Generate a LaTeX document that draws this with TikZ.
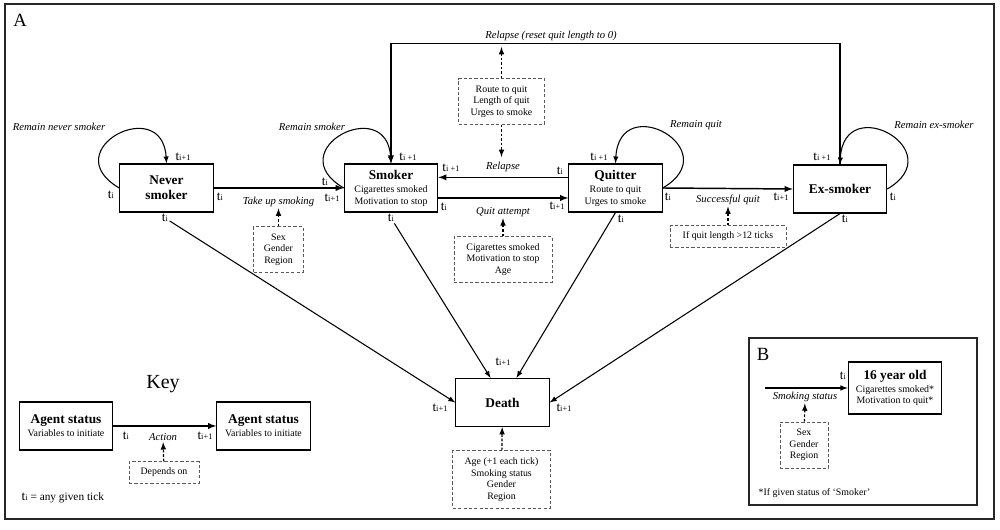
\documentclass[tikz,border=0pt]{standalone}
\usepackage{fontspec}
\setmainfont{Liberation Serif}
\usetikzlibrary{positioning}

\newcommand{\ttlfont}{\bfseries\fontsize{10}{11.5}\selectfont}
\newcommand{\varfont}{\fontsize{7.4}{8.6}\selectfont}
\newcommand{\actfont}{\itshape\fontsize{8}{9.5}\selectfont}
\newcommand{\tk}[1]{{\fontsize{10}{10}\selectfont t}{\fontsize{6.3}{7}\selectfont #1}}

\tikzset{
  status/.style={draw, line width=0.9pt, minimum width=70pt, minimum height=36pt, align=center, inner sep=1pt, font=\varfont},
  depbox/.style={draw=black!65, dash pattern=on 2.4pt off 1.6pt, line width=0.7pt, align=center, inner sep=1.5pt, font=\varfont},
  act/.style={font=\actfont, inner sep=1pt},
  tick/.style={inner sep=1pt},
  move/.style={->, line width=1.1pt},
  dep/.style={->, line width=0.9pt, dash pattern=on 2pt off 1.4pt}
}

\begin{document}
\begin{tikzpicture}[>=latex, x=0.75pt, y=-0.75pt]
	\useasboundingbox (0,0) rectangle (1000,530);

	% 1. Frames of panels A and B
	\draw[line width=1.1pt, black!85] (5,4) rectangle (994,519);
	\node[font=\fontsize{14}{16}\selectfont] (lblA) at (20,20) {A};
	\draw[line width=1.1pt, black!85] (749,338) rectangle (977,505);
	\node[font=\fontsize{14}{16}\selectfont] (lblB) at (763,354) {B};

	% 2. Agent statuses
	\node[status, font=\ttlfont] (never) at (166.5,188) {Never\\smoker};
	\node[status] (smoker) at (391,188) {{\ttlfont Smoker}\\[1.5pt]Cigarettes smoked\\Motivation to stop};
	\node[status] (quitter) at (615.5,188) {{\ttlfont Quitter}\\[1.5pt]Route to quit\\Urges to smoke};
	\node[status, font=\ttlfont] (exsm) at (840,189) {Ex-smoker};
	\node[status, font=\ttlfont] (death) at (502.5,402.5) {Death};

	% 3. Variables each action depends on
	\node[depbox, minimum width=37pt, minimum height=34pt] (dep1) at (278.5,249.5) {Sex\\Gender\\Region};
	\node[depbox, minimum width=64pt, minimum height=34pt] (dep2) at (501.5,101.5) {Route to quit\\Length of quit\\Urges to smoke};
	\node[depbox, minimum width=73.5pt, minimum height=34pt] (dep3) at (503,259.5) {Cigarettes smoked\\Motivation to stop\\Age};
	\node[depbox, minimum width=87pt, minimum height=16pt] (dep4) at (728,236.5) {If quit length >12 ticks};
	\node[depbox, minimum width=73pt, minimum height=43pt] (dep5) at (501.5,479.5) {Age (+1 each tick)\\Smoking status\\Gender\\Region};

	% 4. Transitions between statuses
	\draw[move] (never.east) -- (smoker.west);
	\draw[move] ([yshift=8pt]quitter.west) -- ([yshift=8pt]smoker.east);
	\draw[move] ([yshift=-7.5pt]smoker.east) -- ([yshift=-7.5pt]quitter.west);
	\draw[move] (quitter.east) -- (exsm.west);
	\draw[move] (exsm.north) -- ++(0,-121) -| (smoker.north);

	% self loops
	\draw[move, line width=0.8pt] (never.west) .. controls +(-65,-38) and +(-4,-70) .. (never.north);
	\draw[move, line width=0.8pt] (smoker.west) .. controls +(-65,-38) and +(-4,-70) .. (smoker.north);
	\draw[move, line width=0.8pt] (quitter.east) .. controls +(65,-38) and +(4,-74) .. (quitter.north);
	\draw[move, line width=0.8pt] (exsm.east) .. controls +(65,-38) and +(4,-74) .. (exsm.north);

	% 5. Action labels
	\node[act] (lbl1) at (59,127) {Remain never smoker};
	\node[act] (lbl2) at (312,127) {Remain smoker};
	\node[act] (lbl3) at (696,125) {Remain quit};
	\node[act] (lbl4) at (934,125) {Remain ex-smoker};
	\node[act] (lbl5) at (551,36) {Relapse (reset quit length to 0)};
	\node[act] (lbl6) at (503,167) {Relapse};
	\node[act] (lbl7) at (503,212) {Quit attempt};
	\node[act] (lbl8) at (278.5,202) {Take up smoking};
	\node[act] (lbl9) at (728,200) {Successful quit};

	% 6. Ticks
	\node[tick] (nv1) at (183,157) {\tk{i+1}};
	\node[tick] (nv2) at (111,195) {\tk{i}};
	\node[tick] (nv3) at (220,197) {\tk{i}};
	\node[tick] (nv4) at (165,218) {\tk{i}};
	\node[tick] (sm1) at (325,182) {\tk{i}};
	\node[tick] (sm2) at (332,198) {\tk{i+1}};
	\node[tick] (sm3) at (408,157) {\tk{i +1}};
	\node[tick] (sm4) at (451,168) {\tk{i +1}};
	\node[tick] (sm5) at (444,207) {\tk{i}};
	\node[tick] (sm6) at (391,218) {\tk{i}};
	\node[tick] (qt1) at (560,171) {\tk{i}};
	\node[tick] (qt2) at (557,206) {\tk{i+1}};
	\node[tick] (qt3) at (599,157) {\tk{i +1}};
	\node[tick] (qt4) at (668,197) {\tk{i}};
	\node[tick] (qt5) at (621,219) {\tk{i}};
	\node[tick] (ex1) at (781,197) {\tk{i+1}};
	\node[tick] (ex2) at (822,157) {\tk{i +1}};
	\node[tick] (ex3) at (893,197) {\tk{i}};
	\node[tick] (ex4) at (845,219) {\tk{i}};
	\node[tick] (de1) at (503,362) {\tk{i+1}};
	\node[tick] (de2) at (440,408) {\tk{i+1}};
	\node[tick] (de3) at (564,408) {\tk{i+1}};

	% 7. Paths to death
	\draw[->, line width=0.8pt] (nv4) -- (death.west);
	\draw[->, line width=0.8pt] (sm6) -- ([xshift=-9pt]death.north);
	\draw[->, line width=0.8pt] (quitter.south) -- ([xshift=10.5pt]death.north);
	\draw[->, line width=0.8pt] (exsm.south) -- (death.east);

	% 8. Dependencies
	\coordinate (rtop) at (501.5,47);
	\coordinate (rmid) at (501.5,157);
	\draw[dep] (dep1) -- (lbl8);
	\draw[dep] (dep2) -- (rtop);
	\draw[dep] (dep2) -- (rmid);
	\draw[dep] (dep3) -- (lbl7);
	\draw[dep] (dep4) -- (lbl9);
	\draw[dep] (dep5) -- (death);

	% 9. Key
	\node[font=\fontsize{15}{17}\selectfont] (keyttl) at (163,384) {Key};
	\node[status] (key1) at (66,426) {{\ttlfont Agent status}\\[1pt]Variables to initiate};
	\node[status] (key2) at (263.5,426) {{\ttlfont Agent status}\\[1pt]Variables to initiate};
	\draw[move] (key1.east) -- (key2.west);
	\node[act] (actk) at (163,437) {Action};
	\node[tick] (ky1) at (126,436) {\tk{i}};
	\node[tick] (ky2) at (205,436) {\tk{i+1}};
	\node[depbox, minimum width=52.5pt, minimum height=16pt] (depk) at (164,472.5) {Depends on};
	\draw[dep] (depk) -- (actk);
	\node[anchor=west, font=\fontsize{8.5}{9}\selectfont] (tdef) at (17,498) {\tk{i} = any given tick};

	% 10. Panel B: new agents
	\node[status, minimum height=39pt] (young) at (895,388) {{\ttlfont 16 year old}\\[1pt]Cigarettes smoked*\\Motivation to quit*};
	\coordinate (bstart) at (765,388);
	\draw[move, line width=0.9pt] (bstart) -- (young.west);
	\node[tick] (yg1) at (843,376) {\tk{i}};
	\node[act] (lbl10) at (805,397) {Smoking status};
	\node[depbox, minimum width=36pt, minimum height=34.5pt] (dep7) at (804,445) {Sex\\Gender\\Region};
	\draw[dep] (dep7) -- (lbl10);
	\node[anchor=west, font=\varfont] (fnote) at (754,493) {*If given status of `Smoker'};
\end{tikzpicture}
\end{document}
